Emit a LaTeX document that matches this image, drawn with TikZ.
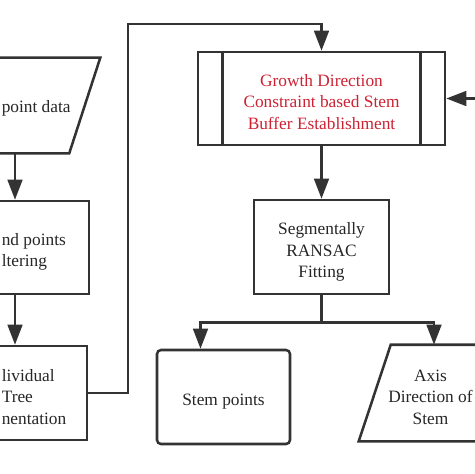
\documentclass[tikz,border=0pt]{standalone}
\usepackage{fontspec}
\setmainfont{Liberation Serif}
\usetikzlibrary{arrows.meta}
\definecolor{linegray}{RGB}{51,51,51}
\definecolor{textgray}{RGB}{38,38,38}
\definecolor{textred}{RGB}{204,34,51}
\newcommand{\flowfont}{\fontsize{13}{16.1}\selectfont}
\tikzset{every picture/.style={line width=1.9pt}}
\tikzset{
  boxshape/.style={draw=linegray, rectangle, inner sep=0pt},
  ioshape/.style={rectangle, inner sep=0pt},
  flowline/.style={draw=linegray},
  flowarrow/.style={draw=linegray, -{Triangle[length=15pt,width=11pt]}},
  flowtext/.style={inner sep=0pt, align=center, font=\flowfont, text=textgray},
  cuttext/.style={flowtext, anchor=base west}
}

\begin{document}
\begin{tikzpicture}[x=0.75pt,y=0.75pt,yscale=-1,xscale=1]
\useasboundingbox (0,0) rectangle (474,474);

%Shape: Parallelogram
\node[ioshape, minimum width=126pt, minimum height=69.75pt] (data) at (15,105.5) {};
\draw[flowline] ([xshift=23.25pt]data.north west) -- (data.north east) -- ([xshift=-23.25pt]data.south east) -- (data.south west) -- cycle;
%Shape: Rectangle
\node[boxshape, minimum width=111pt, minimum height=69.75pt] (filter) at (15,247.5) {};
%Shape: Rectangle
\node[boxshape, minimum width=108pt, minimum height=70.5pt] (indiv) at (15,393) {};
%Shape: Predefined Process
\node[boxshape, minimum width=185.25pt, minimum height=69.75pt] (buffer) at (321.5,98.5) {};
\draw[flowline] ([xshift=19.5pt]buffer.north west) -- ([xshift=19.5pt]buffer.south west);
\draw[flowline] ([xshift=-19.5pt]buffer.north east) -- ([xshift=-19.5pt]buffer.south east);
%Shape: Rectangle
\node[boxshape, minimum width=101.25pt, minimum height=70.5pt] (fit) at (321.5,247) {};
%Shape: Rounded Rectangle
\node[boxshape, rounded corners=3pt, minimum width=99.75pt, minimum height=70.5pt] (stem) at (223.5,397) {};
%Shape: Parallelogram
\node[ioshape, minimum width=111pt, minimum height=70.5pt] (axis) at (434,393) {};
\draw[flowline] ([xshift=24pt]axis.north west) -- (axis.north east) -- ([xshift=-24pt]axis.south east) -- (axis.south west) -- cycle;

% Text Node
\node[cuttext] (datatxt) at (0.5,113) {point data};
% Text Node
\node[cuttext] (filtertxta) at (0.5,245) {nd points};
% Text Node
\node[cuttext] (filtertxtb) at (0.5,266.5) {ltering};
% Text Node
\node[cuttext] (indivtxta) at (0.5,381) {lividual};
% Text Node
\node[cuttext] (indivtxtb) at (0.5,402.5) {Tree};
% Text Node
\node[cuttext] (indivtxtc) at (0.5,424) {nentation};
% Text Node
\node[flowtext, text=textred] (buffertxt) at (321.5,102) {Growth Direction\\Constraint based Stem\\Buffer Establishment};
% Text Node
\node[flowtext] (fittxt) at (321.5,252) {Segmentally\\RANSAC\\Fitting};
% Text Node
\node[flowtext] (stemtxt) at (223.5,401.5) {Stem points};
% Text Node
\node[flowtext] (axistxt) at (430.5,397) {Axis\\Direction of\\Stem};

\coordinate (bend) at (128,24);
\coordinate (feed) at (490,98.5);

%Straight Lines
\draw[flowarrow] (data) -- (filter);
\draw[flowarrow] (filter) -- (indiv);
\draw[flowarrow] (indiv.east) -| (bend) -| (buffer.north);
\draw[flowarrow] (feed) -- (buffer.east);
\draw[flowarrow] (buffer) -- (fit);
\draw[flowline] (fit.south) -- ++(0,27) coordinate (split);
\draw[flowarrow] (split) -| ([xshift=-17.25pt]stem.north);
\draw[flowarrow] (split) -| (axis.north);

\end{tikzpicture}
\end{document}
